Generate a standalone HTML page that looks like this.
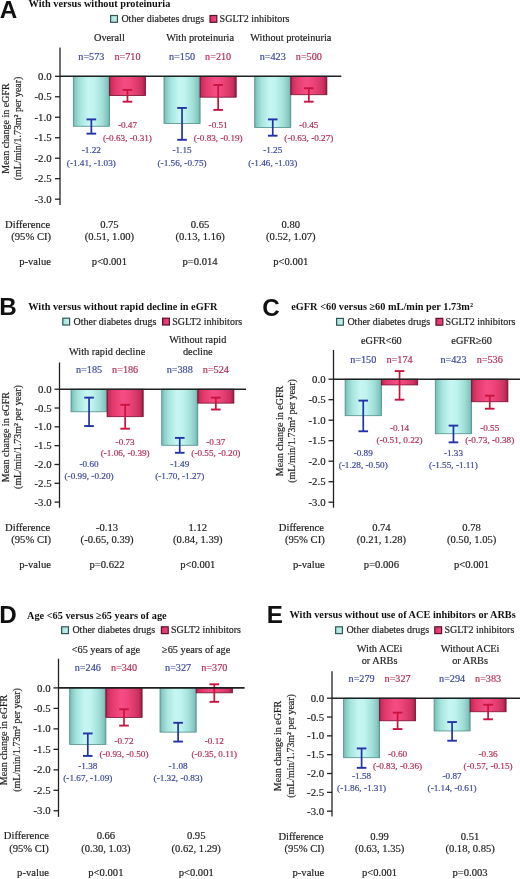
<!DOCTYPE html>
<html><head><meta charset="utf-8"><title>eGFR change by subgroup</title>
<style>html,body{margin:0;padding:0;background:#fff;width:520px;height:879px;overflow:hidden}svg{display:block;filter:blur(0.35px)}</style>
</head><body>
<svg width="520" height="879" viewBox="0 0 520 879">
<defs>
<linearGradient id="gT" x1="0" x2="1" y1="0" y2="0">
<stop offset="0" stop-color="#6fb3ad"/><stop offset="0.06" stop-color="#88cbc4"/><stop offset="0.2" stop-color="#a8e5df"/>
<stop offset="0.42" stop-color="#c6f6f2"/><stop offset="0.58" stop-color="#c0f3ef"/><stop offset="0.8" stop-color="#a2dfd9"/>
<stop offset="0.94" stop-color="#86c7c1"/><stop offset="1" stop-color="#6aa9a4"/>
</linearGradient>
<linearGradient id="gP" x1="0" x2="1" y1="0" y2="0">
<stop offset="0" stop-color="#8a1a3c"/><stop offset="0.04" stop-color="#c82c5c"/><stop offset="0.15" stop-color="#e2386c"/>
<stop offset="0.42" stop-color="#f44c84"/><stop offset="0.6" stop-color="#ee467c"/><stop offset="0.78" stop-color="#dc3a6c"/>
<stop offset="0.9" stop-color="#cc3060"/><stop offset="0.97" stop-color="#a8244e"/><stop offset="1" stop-color="#701a36"/>
</linearGradient>
<linearGradient id="legT" x1="0" x2="1"><stop offset="0" stop-color="#a8e2dc"/><stop offset="1" stop-color="#c8f2ee"/></linearGradient>
<linearGradient id="legP" x1="0" x2="1"><stop offset="0" stop-color="#d8306a"/><stop offset="1" stop-color="#ee4a7c"/></linearGradient>
</defs>
<text x="-0.30" y="17.60" font-size="24.2" text-anchor="start" fill="#111" font-weight="bold" font-family="'Liberation Sans', Arial, sans-serif">A</text>
<text x="28.60" y="7.20" font-size="10.3" text-anchor="start" fill="#111" font-weight="bold" font-family="'Liberation Serif', 'Times New Roman', serif">With versus without proteinuria</text>
<rect x="110.60" y="15.50" width="6.80" height="6.80" fill="url(#legT)" stroke="#2f5856" stroke-width="1.2"/>
<text x="121.40" y="22.10" font-size="10" text-anchor="start" fill="#222" font-weight="normal" font-family="'Liberation Serif', 'Times New Roman', serif" stroke="#222" stroke-width="0.18">Other diabetes drugs</text>
<rect x="210.00" y="15.50" width="6.80" height="6.80" fill="url(#legP)" stroke="#5a1028" stroke-width="1.2"/>
<text x="219.60" y="22.10" font-size="10" text-anchor="start" fill="#222" font-weight="normal" font-family="'Liberation Serif', 'Times New Roman', serif" stroke="#222" stroke-width="0.18">SGLT2 inhibitors</text>
<line x1="60.00" y1="47.50" x2="60.00" y2="205.00" stroke="#222" stroke-width="1.3"/>
<line x1="55.00" y1="76.30" x2="60.00" y2="76.30" stroke="#222" stroke-width="1.3"/>
<text x="51.60" y="79.90" font-size="10.8" text-anchor="end" fill="#222" font-weight="normal" font-family="'Liberation Serif', 'Times New Roman', serif" stroke="#222" stroke-width="0.18">0.0</text>
<line x1="55.00" y1="96.78" x2="60.00" y2="96.78" stroke="#222" stroke-width="1.3"/>
<text x="51.60" y="100.38" font-size="10.8" text-anchor="end" fill="#222" font-weight="normal" font-family="'Liberation Serif', 'Times New Roman', serif" stroke="#222" stroke-width="0.18">-0.5</text>
<line x1="55.00" y1="117.26" x2="60.00" y2="117.26" stroke="#222" stroke-width="1.3"/>
<text x="51.60" y="120.86" font-size="10.8" text-anchor="end" fill="#222" font-weight="normal" font-family="'Liberation Serif', 'Times New Roman', serif" stroke="#222" stroke-width="0.18">-1.0</text>
<line x1="55.00" y1="137.74" x2="60.00" y2="137.74" stroke="#222" stroke-width="1.3"/>
<text x="51.60" y="141.34" font-size="10.8" text-anchor="end" fill="#222" font-weight="normal" font-family="'Liberation Serif', 'Times New Roman', serif" stroke="#222" stroke-width="0.18">-1.5</text>
<line x1="55.00" y1="158.22" x2="60.00" y2="158.22" stroke="#222" stroke-width="1.3"/>
<text x="51.60" y="161.82" font-size="10.8" text-anchor="end" fill="#222" font-weight="normal" font-family="'Liberation Serif', 'Times New Roman', serif" stroke="#222" stroke-width="0.18">-2.0</text>
<line x1="55.00" y1="178.70" x2="60.00" y2="178.70" stroke="#222" stroke-width="1.3"/>
<text x="51.60" y="182.30" font-size="10.8" text-anchor="end" fill="#222" font-weight="normal" font-family="'Liberation Serif', 'Times New Roman', serif" stroke="#222" stroke-width="0.18">-2.5</text>
<line x1="55.00" y1="199.18" x2="60.00" y2="199.18" stroke="#222" stroke-width="1.3"/>
<text x="51.60" y="202.78" font-size="10.8" text-anchor="end" fill="#222" font-weight="normal" font-family="'Liberation Serif', 'Times New Roman', serif" stroke="#222" stroke-width="0.18">-3.0</text>
<text x="0.00" y="0.00" font-size="10" text-anchor="middle" fill="#222" font-weight="normal" font-family="'Liberation Serif', 'Times New Roman', serif" stroke="#222" stroke-width="0.18" transform="translate(8.60,128.50) rotate(-90)">Mean change in eGFR</text>
<text x="0.00" y="0.00" font-size="9.9" text-anchor="middle" fill="#222" font-weight="normal" font-family="'Liberation Serif', 'Times New Roman', serif" stroke="#222" stroke-width="0.18" transform="translate(20.70,128.50) rotate(-90)">(mL/min/1.73m² per year)</text>
<rect x="73.30" y="76.30" width="36.10" height="49.97" fill="url(#gT)" stroke="#4f8f8a" stroke-width="0.8"/>
<rect x="109.40" y="76.30" width="36.10" height="19.25" fill="url(#gP)" stroke="#7a1030" stroke-width="0.8"/>
<line x1="91.35" y1="133.65" x2="91.35" y2="119.39" stroke="#2332a6" stroke-width="1.7"/>
<line x1="86.55" y1="133.65" x2="96.15" y2="133.65" stroke="#2332a6" stroke-width="1.9"/>
<line x1="86.55" y1="119.39" x2="96.15" y2="119.39" stroke="#2332a6" stroke-width="1.9"/>
<line x1="127.45" y1="101.70" x2="127.45" y2="89.90" stroke="#c8143f" stroke-width="1.7"/>
<line x1="122.65" y1="101.70" x2="132.25" y2="101.70" stroke="#c8143f" stroke-width="1.9"/>
<line x1="122.65" y1="89.90" x2="132.25" y2="89.90" stroke="#c8143f" stroke-width="1.9"/>
<text x="127.45" y="128.30" font-size="9.2" text-anchor="middle" fill="#b42c52" font-weight="normal" font-family="'Liberation Serif', 'Times New Roman', serif" stroke="#b42c52" stroke-width="0.18">-0.47</text>
<text x="127.45" y="140.80" font-size="9.2" text-anchor="middle" fill="#b42c52" font-weight="normal" font-family="'Liberation Serif', 'Times New Roman', serif" stroke="#b42c52" stroke-width="0.18">(-0.63, -0.31)</text>
<text x="91.35" y="152.70" font-size="9.2" text-anchor="middle" fill="#3a479c" font-weight="normal" font-family="'Liberation Serif', 'Times New Roman', serif" stroke="#3a479c" stroke-width="0.18">-1.22</text>
<text x="91.35" y="165.60" font-size="9.2" text-anchor="middle" fill="#3a479c" font-weight="normal" font-family="'Liberation Serif', 'Times New Roman', serif" stroke="#3a479c" stroke-width="0.18">(-1.41, -1.03)</text>
<text x="91.35" y="59.50" font-size="10.2" text-anchor="middle" fill="#3a479c" font-weight="normal" font-family="'Liberation Serif', 'Times New Roman', serif" stroke="#3a479c" stroke-width="0.18">n=573</text>
<text x="127.45" y="59.50" font-size="10.2" text-anchor="middle" fill="#b42c52" font-weight="normal" font-family="'Liberation Serif', 'Times New Roman', serif" stroke="#b42c52" stroke-width="0.18">n=710</text>
<text x="109.40" y="40.50" font-size="10.3" text-anchor="middle" fill="#222" font-weight="normal" font-family="'Liberation Serif', 'Times New Roman', serif" stroke="#222" stroke-width="0.18">Overall</text>
<text x="109.40" y="228.00" font-size="10.6" text-anchor="middle" fill="#222" font-weight="normal" font-family="'Liberation Serif', 'Times New Roman', serif" stroke="#222" stroke-width="0.18">0.75</text>
<text x="109.40" y="239.50" font-size="10.6" text-anchor="middle" fill="#222" font-weight="normal" font-family="'Liberation Serif', 'Times New Roman', serif" stroke="#222" stroke-width="0.18">(0.51, 1.00)</text>
<text x="109.40" y="264.50" font-size="10.6" text-anchor="middle" fill="#222" font-weight="normal" font-family="'Liberation Serif', 'Times New Roman', serif" stroke="#222" stroke-width="0.18">p&lt;0.001</text>
<rect x="164.00" y="76.30" width="36.10" height="47.10" fill="url(#gT)" stroke="#4f8f8a" stroke-width="0.8"/>
<rect x="200.10" y="76.30" width="36.10" height="20.89" fill="url(#gP)" stroke="#7a1030" stroke-width="0.8"/>
<line x1="182.05" y1="139.80" x2="182.05" y2="107.92" stroke="#2332a6" stroke-width="1.7"/>
<line x1="177.25" y1="139.80" x2="186.85" y2="139.80" stroke="#2332a6" stroke-width="1.9"/>
<line x1="177.25" y1="107.92" x2="186.85" y2="107.92" stroke="#2332a6" stroke-width="1.9"/>
<line x1="218.15" y1="109.90" x2="218.15" y2="84.98" stroke="#c8143f" stroke-width="1.7"/>
<line x1="213.35" y1="109.90" x2="222.95" y2="109.90" stroke="#c8143f" stroke-width="1.9"/>
<line x1="213.35" y1="84.98" x2="222.95" y2="84.98" stroke="#c8143f" stroke-width="1.9"/>
<text x="218.15" y="128.30" font-size="9.2" text-anchor="middle" fill="#b42c52" font-weight="normal" font-family="'Liberation Serif', 'Times New Roman', serif" stroke="#b42c52" stroke-width="0.18">-0.51</text>
<text x="218.15" y="140.80" font-size="9.2" text-anchor="middle" fill="#b42c52" font-weight="normal" font-family="'Liberation Serif', 'Times New Roman', serif" stroke="#b42c52" stroke-width="0.18">(-0.83, -0.19)</text>
<text x="182.05" y="152.70" font-size="9.2" text-anchor="middle" fill="#3a479c" font-weight="normal" font-family="'Liberation Serif', 'Times New Roman', serif" stroke="#3a479c" stroke-width="0.18">-1.15</text>
<text x="182.05" y="165.60" font-size="9.2" text-anchor="middle" fill="#3a479c" font-weight="normal" font-family="'Liberation Serif', 'Times New Roman', serif" stroke="#3a479c" stroke-width="0.18">(-1.56, -0.75)</text>
<text x="182.05" y="59.50" font-size="10.2" text-anchor="middle" fill="#3a479c" font-weight="normal" font-family="'Liberation Serif', 'Times New Roman', serif" stroke="#3a479c" stroke-width="0.18">n=150</text>
<text x="218.15" y="59.50" font-size="10.2" text-anchor="middle" fill="#b42c52" font-weight="normal" font-family="'Liberation Serif', 'Times New Roman', serif" stroke="#b42c52" stroke-width="0.18">n=210</text>
<text x="200.10" y="40.50" font-size="10.3" text-anchor="middle" fill="#222" font-weight="normal" font-family="'Liberation Serif', 'Times New Roman', serif" stroke="#222" stroke-width="0.18">With proteinuria</text>
<text x="200.10" y="228.00" font-size="10.6" text-anchor="middle" fill="#222" font-weight="normal" font-family="'Liberation Serif', 'Times New Roman', serif" stroke="#222" stroke-width="0.18">0.65</text>
<text x="200.10" y="239.50" font-size="10.6" text-anchor="middle" fill="#222" font-weight="normal" font-family="'Liberation Serif', 'Times New Roman', serif" stroke="#222" stroke-width="0.18">(0.13, 1.16)</text>
<text x="200.10" y="264.50" font-size="10.6" text-anchor="middle" fill="#222" font-weight="normal" font-family="'Liberation Serif', 'Times New Roman', serif" stroke="#222" stroke-width="0.18">p=0.014</text>
<rect x="254.70" y="76.30" width="36.10" height="51.20" fill="url(#gT)" stroke="#4f8f8a" stroke-width="0.8"/>
<rect x="290.80" y="76.30" width="36.10" height="18.43" fill="url(#gP)" stroke="#7a1030" stroke-width="0.8"/>
<line x1="272.75" y1="135.70" x2="272.75" y2="119.39" stroke="#2332a6" stroke-width="1.7"/>
<line x1="267.95" y1="135.70" x2="277.55" y2="135.70" stroke="#2332a6" stroke-width="1.9"/>
<line x1="267.95" y1="119.39" x2="277.55" y2="119.39" stroke="#2332a6" stroke-width="1.9"/>
<line x1="308.85" y1="101.70" x2="308.85" y2="88.26" stroke="#c8143f" stroke-width="1.7"/>
<line x1="304.05" y1="101.70" x2="313.65" y2="101.70" stroke="#c8143f" stroke-width="1.9"/>
<line x1="304.05" y1="88.26" x2="313.65" y2="88.26" stroke="#c8143f" stroke-width="1.9"/>
<text x="308.85" y="128.30" font-size="9.2" text-anchor="middle" fill="#b42c52" font-weight="normal" font-family="'Liberation Serif', 'Times New Roman', serif" stroke="#b42c52" stroke-width="0.18">-0.45</text>
<text x="308.85" y="140.80" font-size="9.2" text-anchor="middle" fill="#b42c52" font-weight="normal" font-family="'Liberation Serif', 'Times New Roman', serif" stroke="#b42c52" stroke-width="0.18">(-0.63, -0.27)</text>
<text x="272.75" y="152.70" font-size="9.2" text-anchor="middle" fill="#3a479c" font-weight="normal" font-family="'Liberation Serif', 'Times New Roman', serif" stroke="#3a479c" stroke-width="0.18">-1.25</text>
<text x="272.75" y="165.60" font-size="9.2" text-anchor="middle" fill="#3a479c" font-weight="normal" font-family="'Liberation Serif', 'Times New Roman', serif" stroke="#3a479c" stroke-width="0.18">(-1.46, -1.03)</text>
<text x="272.75" y="59.50" font-size="10.2" text-anchor="middle" fill="#3a479c" font-weight="normal" font-family="'Liberation Serif', 'Times New Roman', serif" stroke="#3a479c" stroke-width="0.18">n=423</text>
<text x="308.85" y="59.50" font-size="10.2" text-anchor="middle" fill="#b42c52" font-weight="normal" font-family="'Liberation Serif', 'Times New Roman', serif" stroke="#b42c52" stroke-width="0.18">n=500</text>
<text x="290.80" y="40.50" font-size="10.3" text-anchor="middle" fill="#222" font-weight="normal" font-family="'Liberation Serif', 'Times New Roman', serif" stroke="#222" stroke-width="0.18">Without proteinuria</text>
<text x="290.80" y="228.00" font-size="10.6" text-anchor="middle" fill="#222" font-weight="normal" font-family="'Liberation Serif', 'Times New Roman', serif" stroke="#222" stroke-width="0.18">0.80</text>
<text x="290.80" y="239.50" font-size="10.6" text-anchor="middle" fill="#222" font-weight="normal" font-family="'Liberation Serif', 'Times New Roman', serif" stroke="#222" stroke-width="0.18">(0.52, 1.07)</text>
<text x="290.80" y="264.50" font-size="10.6" text-anchor="middle" fill="#222" font-weight="normal" font-family="'Liberation Serif', 'Times New Roman', serif" stroke="#222" stroke-width="0.18">p&lt;0.001</text>
<line x1="60.00" y1="76.30" x2="341.30" y2="76.30" stroke="#1e2222" stroke-width="1.6"/>
<text x="50.20" y="228.00" font-size="10.6" text-anchor="end" fill="#222" font-weight="normal" font-family="'Liberation Serif', 'Times New Roman', serif" stroke="#222" stroke-width="0.18">Difference</text>
<text x="51.00" y="239.50" font-size="10.6" text-anchor="end" fill="#222" font-weight="normal" font-family="'Liberation Serif', 'Times New Roman', serif" stroke="#222" stroke-width="0.18">(95% CI)</text>
<text x="51.00" y="264.50" font-size="10.6" text-anchor="end" fill="#222" font-weight="normal" font-family="'Liberation Serif', 'Times New Roman', serif" stroke="#222" stroke-width="0.18">p-value</text>
<text x="-0.80" y="315.20" font-size="24.2" text-anchor="start" fill="#111" font-weight="bold" font-family="'Liberation Sans', Arial, sans-serif">B</text>
<text x="28.25" y="310.00" font-size="10.3" text-anchor="start" fill="#111" font-weight="bold" font-family="'Liberation Serif', 'Times New Roman', serif">With versus without rapid decline in eGFR</text>
<rect x="62.80" y="318.20" width="6.80" height="6.80" fill="url(#legT)" stroke="#2f5856" stroke-width="1.2"/>
<text x="73.60" y="324.80" font-size="10" text-anchor="start" fill="#222" font-weight="normal" font-family="'Liberation Serif', 'Times New Roman', serif" stroke="#222" stroke-width="0.18">Other diabetes drugs</text>
<rect x="162.60" y="318.20" width="6.80" height="6.80" fill="url(#legP)" stroke="#5a1028" stroke-width="1.2"/>
<text x="172.20" y="324.80" font-size="10" text-anchor="start" fill="#222" font-weight="normal" font-family="'Liberation Serif', 'Times New Roman', serif" stroke="#222" stroke-width="0.18">SGLT2 inhibitors</text>
<line x1="59.50" y1="362.50" x2="59.50" y2="507.70" stroke="#222" stroke-width="1.3"/>
<line x1="54.50" y1="389.20" x2="59.50" y2="389.20" stroke="#222" stroke-width="1.3"/>
<text x="51.60" y="392.80" font-size="10.8" text-anchor="end" fill="#222" font-weight="normal" font-family="'Liberation Serif', 'Times New Roman', serif" stroke="#222" stroke-width="0.18">0.0</text>
<line x1="54.50" y1="408.02" x2="59.50" y2="408.02" stroke="#222" stroke-width="1.3"/>
<text x="51.60" y="411.62" font-size="10.8" text-anchor="end" fill="#222" font-weight="normal" font-family="'Liberation Serif', 'Times New Roman', serif" stroke="#222" stroke-width="0.18">-0.5</text>
<line x1="54.50" y1="426.84" x2="59.50" y2="426.84" stroke="#222" stroke-width="1.3"/>
<text x="51.60" y="430.44" font-size="10.8" text-anchor="end" fill="#222" font-weight="normal" font-family="'Liberation Serif', 'Times New Roman', serif" stroke="#222" stroke-width="0.18">-1.0</text>
<line x1="54.50" y1="445.66" x2="59.50" y2="445.66" stroke="#222" stroke-width="1.3"/>
<text x="51.60" y="449.26" font-size="10.8" text-anchor="end" fill="#222" font-weight="normal" font-family="'Liberation Serif', 'Times New Roman', serif" stroke="#222" stroke-width="0.18">-1.5</text>
<line x1="54.50" y1="464.48" x2="59.50" y2="464.48" stroke="#222" stroke-width="1.3"/>
<text x="51.60" y="468.08" font-size="10.8" text-anchor="end" fill="#222" font-weight="normal" font-family="'Liberation Serif', 'Times New Roman', serif" stroke="#222" stroke-width="0.18">-2.0</text>
<line x1="54.50" y1="483.30" x2="59.50" y2="483.30" stroke="#222" stroke-width="1.3"/>
<text x="51.60" y="486.90" font-size="10.8" text-anchor="end" fill="#222" font-weight="normal" font-family="'Liberation Serif', 'Times New Roman', serif" stroke="#222" stroke-width="0.18">-2.5</text>
<line x1="54.50" y1="502.12" x2="59.50" y2="502.12" stroke="#222" stroke-width="1.3"/>
<text x="51.60" y="505.72" font-size="10.8" text-anchor="end" fill="#222" font-weight="normal" font-family="'Liberation Serif', 'Times New Roman', serif" stroke="#222" stroke-width="0.18">-3.0</text>
<text x="0.00" y="0.00" font-size="10" text-anchor="middle" fill="#222" font-weight="normal" font-family="'Liberation Serif', 'Times New Roman', serif" stroke="#222" stroke-width="0.18" transform="translate(8.60,437.10) rotate(-90)">Mean change in eGFR</text>
<text x="0.00" y="0.00" font-size="9.9" text-anchor="middle" fill="#222" font-weight="normal" font-family="'Liberation Serif', 'Times New Roman', serif" stroke="#222" stroke-width="0.18" transform="translate(20.80,437.10) rotate(-90)">(mL/min/1.73m² per year)</text>
<rect x="71.00" y="389.20" width="36.10" height="22.58" fill="url(#gT)" stroke="#4f8f8a" stroke-width="0.8"/>
<rect x="107.10" y="389.20" width="36.10" height="27.48" fill="url(#gP)" stroke="#7a1030" stroke-width="0.8"/>
<line x1="89.05" y1="426.06" x2="89.05" y2="397.63" stroke="#2332a6" stroke-width="1.7"/>
<line x1="84.25" y1="426.06" x2="93.85" y2="426.06" stroke="#2332a6" stroke-width="1.9"/>
<line x1="84.25" y1="397.63" x2="93.85" y2="397.63" stroke="#2332a6" stroke-width="1.9"/>
<line x1="125.15" y1="428.70" x2="125.15" y2="404.78" stroke="#c8143f" stroke-width="1.7"/>
<line x1="120.35" y1="428.70" x2="129.95" y2="428.70" stroke="#c8143f" stroke-width="1.9"/>
<line x1="120.35" y1="404.78" x2="129.95" y2="404.78" stroke="#c8143f" stroke-width="1.9"/>
<text x="125.15" y="444.80" font-size="9.2" text-anchor="middle" fill="#b42c52" font-weight="normal" font-family="'Liberation Serif', 'Times New Roman', serif" stroke="#b42c52" stroke-width="0.18">-0.73</text>
<text x="125.15" y="456.00" font-size="9.2" text-anchor="middle" fill="#b42c52" font-weight="normal" font-family="'Liberation Serif', 'Times New Roman', serif" stroke="#b42c52" stroke-width="0.18">(-1.06, -0.39)</text>
<text x="89.05" y="467.10" font-size="9.2" text-anchor="middle" fill="#3a479c" font-weight="normal" font-family="'Liberation Serif', 'Times New Roman', serif" stroke="#3a479c" stroke-width="0.18">-0.60</text>
<text x="89.05" y="478.50" font-size="9.2" text-anchor="middle" fill="#3a479c" font-weight="normal" font-family="'Liberation Serif', 'Times New Roman', serif" stroke="#3a479c" stroke-width="0.18">(-0.99, -0.20)</text>
<text x="89.05" y="373.00" font-size="10.2" text-anchor="middle" fill="#3a479c" font-weight="normal" font-family="'Liberation Serif', 'Times New Roman', serif" stroke="#3a479c" stroke-width="0.18">n=185</text>
<text x="125.15" y="373.00" font-size="10.2" text-anchor="middle" fill="#b42c52" font-weight="normal" font-family="'Liberation Serif', 'Times New Roman', serif" stroke="#b42c52" stroke-width="0.18">n=186</text>
<text x="107.10" y="355.00" font-size="10.3" text-anchor="middle" fill="#222" font-weight="normal" font-family="'Liberation Serif', 'Times New Roman', serif" stroke="#222" stroke-width="0.18">With rapid decline</text>
<text x="107.10" y="530.50" font-size="10.6" text-anchor="middle" fill="#222" font-weight="normal" font-family="'Liberation Serif', 'Times New Roman', serif" stroke="#222" stroke-width="0.18">-0.13</text>
<text x="107.10" y="542.50" font-size="10.6" text-anchor="middle" fill="#222" font-weight="normal" font-family="'Liberation Serif', 'Times New Roman', serif" stroke="#222" stroke-width="0.18">(-0.65, 0.39)</text>
<text x="107.10" y="567.50" font-size="10.6" text-anchor="middle" fill="#222" font-weight="normal" font-family="'Liberation Serif', 'Times New Roman', serif" stroke="#222" stroke-width="0.18">p=0.622</text>
<rect x="161.70" y="389.20" width="36.10" height="56.08" fill="url(#gT)" stroke="#4f8f8a" stroke-width="0.8"/>
<rect x="197.80" y="389.20" width="36.10" height="13.93" fill="url(#gP)" stroke="#7a1030" stroke-width="0.8"/>
<line x1="179.75" y1="452.79" x2="179.75" y2="437.90" stroke="#2332a6" stroke-width="1.7"/>
<line x1="174.95" y1="452.79" x2="184.55" y2="452.79" stroke="#2332a6" stroke-width="1.9"/>
<line x1="174.95" y1="437.90" x2="184.55" y2="437.90" stroke="#2332a6" stroke-width="1.9"/>
<line x1="215.85" y1="409.50" x2="215.85" y2="397.63" stroke="#c8143f" stroke-width="1.7"/>
<line x1="211.05" y1="409.50" x2="220.65" y2="409.50" stroke="#c8143f" stroke-width="1.9"/>
<line x1="211.05" y1="397.63" x2="220.65" y2="397.63" stroke="#c8143f" stroke-width="1.9"/>
<text x="215.85" y="444.80" font-size="9.2" text-anchor="middle" fill="#b42c52" font-weight="normal" font-family="'Liberation Serif', 'Times New Roman', serif" stroke="#b42c52" stroke-width="0.18">-0.37</text>
<text x="215.85" y="456.00" font-size="9.2" text-anchor="middle" fill="#b42c52" font-weight="normal" font-family="'Liberation Serif', 'Times New Roman', serif" stroke="#b42c52" stroke-width="0.18">(-0.55, -0.20)</text>
<text x="179.75" y="467.10" font-size="9.2" text-anchor="middle" fill="#3a479c" font-weight="normal" font-family="'Liberation Serif', 'Times New Roman', serif" stroke="#3a479c" stroke-width="0.18">-1.49</text>
<text x="179.75" y="478.50" font-size="9.2" text-anchor="middle" fill="#3a479c" font-weight="normal" font-family="'Liberation Serif', 'Times New Roman', serif" stroke="#3a479c" stroke-width="0.18">(-1.70, -1.27)</text>
<text x="179.75" y="373.00" font-size="10.2" text-anchor="middle" fill="#3a479c" font-weight="normal" font-family="'Liberation Serif', 'Times New Roman', serif" stroke="#3a479c" stroke-width="0.18">n=388</text>
<text x="215.85" y="373.00" font-size="10.2" text-anchor="middle" fill="#b42c52" font-weight="normal" font-family="'Liberation Serif', 'Times New Roman', serif" stroke="#b42c52" stroke-width="0.18">n=524</text>
<text x="197.80" y="343.00" font-size="10.3" text-anchor="middle" fill="#222" font-weight="normal" font-family="'Liberation Serif', 'Times New Roman', serif" stroke="#222" stroke-width="0.18">Without rapid</text>
<text x="197.80" y="355.00" font-size="10.3" text-anchor="middle" fill="#222" font-weight="normal" font-family="'Liberation Serif', 'Times New Roman', serif" stroke="#222" stroke-width="0.18">decline</text>
<text x="197.80" y="530.50" font-size="10.6" text-anchor="middle" fill="#222" font-weight="normal" font-family="'Liberation Serif', 'Times New Roman', serif" stroke="#222" stroke-width="0.18">1.12</text>
<text x="197.80" y="542.50" font-size="10.6" text-anchor="middle" fill="#222" font-weight="normal" font-family="'Liberation Serif', 'Times New Roman', serif" stroke="#222" stroke-width="0.18">(0.84, 1.39)</text>
<text x="197.80" y="567.50" font-size="10.6" text-anchor="middle" fill="#222" font-weight="normal" font-family="'Liberation Serif', 'Times New Roman', serif" stroke="#222" stroke-width="0.18">p&lt;0.001</text>
<line x1="59.50" y1="389.20" x2="246.00" y2="389.20" stroke="#1e2222" stroke-width="1.6"/>
<text x="50.20" y="530.50" font-size="10.6" text-anchor="end" fill="#222" font-weight="normal" font-family="'Liberation Serif', 'Times New Roman', serif" stroke="#222" stroke-width="0.18">Difference</text>
<text x="51.00" y="542.50" font-size="10.6" text-anchor="end" fill="#222" font-weight="normal" font-family="'Liberation Serif', 'Times New Roman', serif" stroke="#222" stroke-width="0.18">(95% CI)</text>
<text x="51.00" y="567.50" font-size="10.6" text-anchor="end" fill="#222" font-weight="normal" font-family="'Liberation Serif', 'Times New Roman', serif" stroke="#222" stroke-width="0.18">p-value</text>
<text x="262.20" y="315.80" font-size="24.2" text-anchor="start" fill="#111" font-weight="bold" font-family="'Liberation Sans', Arial, sans-serif">C</text>
<text x="291.25" y="310.00" font-size="10.3" text-anchor="start" fill="#111" font-weight="bold" font-family="'Liberation Serif', 'Times New Roman', serif">eGFR &lt;60 versus ≥60 mL/min per 1.73m²</text>
<rect x="336.60" y="318.40" width="6.80" height="6.80" fill="url(#legT)" stroke="#2f5856" stroke-width="1.2"/>
<text x="347.40" y="325.00" font-size="10" text-anchor="start" fill="#222" font-weight="normal" font-family="'Liberation Serif', 'Times New Roman', serif" stroke="#222" stroke-width="0.18">Other diabetes drugs</text>
<rect x="436.00" y="318.40" width="6.80" height="6.80" fill="url(#legP)" stroke="#5a1028" stroke-width="1.2"/>
<text x="445.60" y="325.00" font-size="10" text-anchor="start" fill="#222" font-weight="normal" font-family="'Liberation Serif', 'Times New Roman', serif" stroke="#222" stroke-width="0.18">SGLT2 inhibitors</text>
<line x1="333.50" y1="350.00" x2="333.50" y2="507.70" stroke="#222" stroke-width="1.3"/>
<line x1="328.50" y1="379.20" x2="333.50" y2="379.20" stroke="#222" stroke-width="1.3"/>
<text x="325.60" y="382.80" font-size="10.8" text-anchor="end" fill="#222" font-weight="normal" font-family="'Liberation Serif', 'Times New Roman', serif" stroke="#222" stroke-width="0.18">0.0</text>
<line x1="328.50" y1="399.70" x2="333.50" y2="399.70" stroke="#222" stroke-width="1.3"/>
<text x="325.60" y="403.30" font-size="10.8" text-anchor="end" fill="#222" font-weight="normal" font-family="'Liberation Serif', 'Times New Roman', serif" stroke="#222" stroke-width="0.18">-0.5</text>
<line x1="328.50" y1="420.20" x2="333.50" y2="420.20" stroke="#222" stroke-width="1.3"/>
<text x="325.60" y="423.80" font-size="10.8" text-anchor="end" fill="#222" font-weight="normal" font-family="'Liberation Serif', 'Times New Roman', serif" stroke="#222" stroke-width="0.18">-1.0</text>
<line x1="328.50" y1="440.70" x2="333.50" y2="440.70" stroke="#222" stroke-width="1.3"/>
<text x="325.60" y="444.30" font-size="10.8" text-anchor="end" fill="#222" font-weight="normal" font-family="'Liberation Serif', 'Times New Roman', serif" stroke="#222" stroke-width="0.18">-1.5</text>
<line x1="328.50" y1="461.20" x2="333.50" y2="461.20" stroke="#222" stroke-width="1.3"/>
<text x="325.60" y="464.80" font-size="10.8" text-anchor="end" fill="#222" font-weight="normal" font-family="'Liberation Serif', 'Times New Roman', serif" stroke="#222" stroke-width="0.18">-2.0</text>
<line x1="328.50" y1="481.70" x2="333.50" y2="481.70" stroke="#222" stroke-width="1.3"/>
<text x="325.60" y="485.30" font-size="10.8" text-anchor="end" fill="#222" font-weight="normal" font-family="'Liberation Serif', 'Times New Roman', serif" stroke="#222" stroke-width="0.18">-2.5</text>
<line x1="328.50" y1="502.20" x2="333.50" y2="502.20" stroke="#222" stroke-width="1.3"/>
<text x="325.60" y="505.80" font-size="10.8" text-anchor="end" fill="#222" font-weight="normal" font-family="'Liberation Serif', 'Times New Roman', serif" stroke="#222" stroke-width="0.18">-3.0</text>
<text x="0.00" y="0.00" font-size="10" text-anchor="middle" fill="#222" font-weight="normal" font-family="'Liberation Serif', 'Times New Roman', serif" stroke="#222" stroke-width="0.18" transform="translate(282.60,431.00) rotate(-90)">Mean change in eGFR</text>
<text x="0.00" y="0.00" font-size="9.9" text-anchor="middle" fill="#222" font-weight="normal" font-family="'Liberation Serif', 'Times New Roman', serif" stroke="#222" stroke-width="0.18" transform="translate(294.70,431.00) rotate(-90)">(mL/min/1.73m² per year)</text>
<rect x="345.10" y="379.20" width="36.30" height="36.49" fill="url(#gT)" stroke="#4f8f8a" stroke-width="0.8"/>
<rect x="381.40" y="379.20" width="36.30" height="5.74" fill="url(#gP)" stroke="#7a1030" stroke-width="0.8"/>
<line x1="363.25" y1="431.28" x2="363.25" y2="400.60" stroke="#2332a6" stroke-width="1.7"/>
<line x1="358.45" y1="431.28" x2="368.05" y2="431.28" stroke="#2332a6" stroke-width="1.9"/>
<line x1="358.45" y1="400.60" x2="368.05" y2="400.60" stroke="#2332a6" stroke-width="1.9"/>
<line x1="399.55" y1="399.71" x2="399.55" y2="371.08" stroke="#c8143f" stroke-width="1.7"/>
<line x1="394.75" y1="399.71" x2="404.35" y2="399.71" stroke="#c8143f" stroke-width="1.9"/>
<line x1="394.75" y1="371.08" x2="404.35" y2="371.08" stroke="#c8143f" stroke-width="1.9"/>
<text x="399.55" y="431.00" font-size="9.2" text-anchor="middle" fill="#b42c52" font-weight="normal" font-family="'Liberation Serif', 'Times New Roman', serif" stroke="#b42c52" stroke-width="0.18">-0.14</text>
<text x="399.55" y="443.10" font-size="9.2" text-anchor="middle" fill="#b42c52" font-weight="normal" font-family="'Liberation Serif', 'Times New Roman', serif" stroke="#b42c52" stroke-width="0.18">(-0.51, 0.22)</text>
<text x="363.25" y="455.60" font-size="9.2" text-anchor="middle" fill="#3a479c" font-weight="normal" font-family="'Liberation Serif', 'Times New Roman', serif" stroke="#3a479c" stroke-width="0.18">-0.89</text>
<text x="363.25" y="467.70" font-size="9.2" text-anchor="middle" fill="#3a479c" font-weight="normal" font-family="'Liberation Serif', 'Times New Roman', serif" stroke="#3a479c" stroke-width="0.18">(-1.28, -0.50)</text>
<text x="363.25" y="362.50" font-size="10.2" text-anchor="middle" fill="#3a479c" font-weight="normal" font-family="'Liberation Serif', 'Times New Roman', serif" stroke="#3a479c" stroke-width="0.18">n=150</text>
<text x="399.55" y="362.50" font-size="10.2" text-anchor="middle" fill="#b42c52" font-weight="normal" font-family="'Liberation Serif', 'Times New Roman', serif" stroke="#b42c52" stroke-width="0.18">n=174</text>
<text x="381.40" y="343.75" font-size="10.3" text-anchor="middle" fill="#222" font-weight="normal" font-family="'Liberation Serif', 'Times New Roman', serif" stroke="#222" stroke-width="0.18">eGFR&lt;60</text>
<text x="381.40" y="530.50" font-size="10.6" text-anchor="middle" fill="#222" font-weight="normal" font-family="'Liberation Serif', 'Times New Roman', serif" stroke="#222" stroke-width="0.18">0.74</text>
<text x="381.40" y="542.50" font-size="10.6" text-anchor="middle" fill="#222" font-weight="normal" font-family="'Liberation Serif', 'Times New Roman', serif" stroke="#222" stroke-width="0.18">(0.21, 1.28)</text>
<text x="381.40" y="567.50" font-size="10.6" text-anchor="middle" fill="#222" font-weight="normal" font-family="'Liberation Serif', 'Times New Roman', serif" stroke="#222" stroke-width="0.18">p=0.006</text>
<rect x="435.30" y="379.20" width="36.30" height="54.53" fill="url(#gT)" stroke="#4f8f8a" stroke-width="0.8"/>
<rect x="471.60" y="379.20" width="36.30" height="22.55" fill="url(#gP)" stroke="#7a1030" stroke-width="0.8"/>
<line x1="453.45" y1="442.35" x2="453.45" y2="425.61" stroke="#2332a6" stroke-width="1.7"/>
<line x1="448.65" y1="442.35" x2="458.25" y2="442.35" stroke="#2332a6" stroke-width="1.9"/>
<line x1="448.65" y1="425.61" x2="458.25" y2="425.61" stroke="#2332a6" stroke-width="1.9"/>
<line x1="489.75" y1="408.73" x2="489.75" y2="395.68" stroke="#c8143f" stroke-width="1.7"/>
<line x1="484.95" y1="408.73" x2="494.55" y2="408.73" stroke="#c8143f" stroke-width="1.9"/>
<line x1="484.95" y1="395.68" x2="494.55" y2="395.68" stroke="#c8143f" stroke-width="1.9"/>
<text x="489.75" y="431.00" font-size="9.2" text-anchor="middle" fill="#b42c52" font-weight="normal" font-family="'Liberation Serif', 'Times New Roman', serif" stroke="#b42c52" stroke-width="0.18">-0.55</text>
<text x="489.75" y="443.10" font-size="9.2" text-anchor="middle" fill="#b42c52" font-weight="normal" font-family="'Liberation Serif', 'Times New Roman', serif" stroke="#b42c52" stroke-width="0.18">(-0.73, -0.38)</text>
<text x="453.45" y="455.60" font-size="9.2" text-anchor="middle" fill="#3a479c" font-weight="normal" font-family="'Liberation Serif', 'Times New Roman', serif" stroke="#3a479c" stroke-width="0.18">-1.33</text>
<text x="453.45" y="467.70" font-size="9.2" text-anchor="middle" fill="#3a479c" font-weight="normal" font-family="'Liberation Serif', 'Times New Roman', serif" stroke="#3a479c" stroke-width="0.18">(-1.55, -1.11)</text>
<text x="453.45" y="362.50" font-size="10.2" text-anchor="middle" fill="#3a479c" font-weight="normal" font-family="'Liberation Serif', 'Times New Roman', serif" stroke="#3a479c" stroke-width="0.18">n=423</text>
<text x="489.75" y="362.50" font-size="10.2" text-anchor="middle" fill="#b42c52" font-weight="normal" font-family="'Liberation Serif', 'Times New Roman', serif" stroke="#b42c52" stroke-width="0.18">n=536</text>
<text x="471.60" y="343.75" font-size="10.3" text-anchor="middle" fill="#222" font-weight="normal" font-family="'Liberation Serif', 'Times New Roman', serif" stroke="#222" stroke-width="0.18">eGFR≥60</text>
<text x="471.60" y="530.50" font-size="10.6" text-anchor="middle" fill="#222" font-weight="normal" font-family="'Liberation Serif', 'Times New Roman', serif" stroke="#222" stroke-width="0.18">0.78</text>
<text x="471.60" y="542.50" font-size="10.6" text-anchor="middle" fill="#222" font-weight="normal" font-family="'Liberation Serif', 'Times New Roman', serif" stroke="#222" stroke-width="0.18">(0.50, 1.05)</text>
<text x="471.60" y="567.50" font-size="10.6" text-anchor="middle" fill="#222" font-weight="normal" font-family="'Liberation Serif', 'Times New Roman', serif" stroke="#222" stroke-width="0.18">p&lt;0.001</text>
<line x1="333.50" y1="379.20" x2="521.00" y2="379.20" stroke="#1e2222" stroke-width="1.6"/>
<text x="323.90" y="530.50" font-size="10.6" text-anchor="end" fill="#222" font-weight="normal" font-family="'Liberation Serif', 'Times New Roman', serif" stroke="#222" stroke-width="0.18">Difference</text>
<text x="324.70" y="542.50" font-size="10.6" text-anchor="end" fill="#222" font-weight="normal" font-family="'Liberation Serif', 'Times New Roman', serif" stroke="#222" stroke-width="0.18">(95% CI)</text>
<text x="324.70" y="567.50" font-size="10.6" text-anchor="end" fill="#222" font-weight="normal" font-family="'Liberation Serif', 'Times New Roman', serif" stroke="#222" stroke-width="0.18">p-value</text>
<text x="-0.80" y="623.20" font-size="24.2" text-anchor="start" fill="#111" font-weight="bold" font-family="'Liberation Sans', Arial, sans-serif">D</text>
<text x="27.00" y="618.75" font-size="10.3" text-anchor="start" fill="#111" font-weight="bold" font-family="'Liberation Serif', 'Times New Roman', serif">Age &lt;65 versus ≥65 years of age</text>
<rect x="61.60" y="626.80" width="6.80" height="6.80" fill="url(#legT)" stroke="#2f5856" stroke-width="1.2"/>
<text x="72.40" y="633.40" font-size="10" text-anchor="start" fill="#222" font-weight="normal" font-family="'Liberation Serif', 'Times New Roman', serif" stroke="#222" stroke-width="0.18">Other diabetes drugs</text>
<rect x="161.40" y="626.80" width="6.80" height="6.80" fill="url(#legP)" stroke="#5a1028" stroke-width="1.2"/>
<text x="171.00" y="633.40" font-size="10" text-anchor="start" fill="#222" font-weight="normal" font-family="'Liberation Serif', 'Times New Roman', serif" stroke="#222" stroke-width="0.18">SGLT2 inhibitors</text>
<line x1="58.50" y1="658.75" x2="58.50" y2="816.90" stroke="#222" stroke-width="1.3"/>
<line x1="53.50" y1="687.90" x2="58.50" y2="687.90" stroke="#222" stroke-width="1.3"/>
<text x="50.60" y="691.50" font-size="10.8" text-anchor="end" fill="#222" font-weight="normal" font-family="'Liberation Serif', 'Times New Roman', serif" stroke="#222" stroke-width="0.18">0.0</text>
<line x1="53.50" y1="708.38" x2="58.50" y2="708.38" stroke="#222" stroke-width="1.3"/>
<text x="50.60" y="711.98" font-size="10.8" text-anchor="end" fill="#222" font-weight="normal" font-family="'Liberation Serif', 'Times New Roman', serif" stroke="#222" stroke-width="0.18">-0.5</text>
<line x1="53.50" y1="728.86" x2="58.50" y2="728.86" stroke="#222" stroke-width="1.3"/>
<text x="50.60" y="732.46" font-size="10.8" text-anchor="end" fill="#222" font-weight="normal" font-family="'Liberation Serif', 'Times New Roman', serif" stroke="#222" stroke-width="0.18">-1.0</text>
<line x1="53.50" y1="749.34" x2="58.50" y2="749.34" stroke="#222" stroke-width="1.3"/>
<text x="50.60" y="752.94" font-size="10.8" text-anchor="end" fill="#222" font-weight="normal" font-family="'Liberation Serif', 'Times New Roman', serif" stroke="#222" stroke-width="0.18">-1.5</text>
<line x1="53.50" y1="769.82" x2="58.50" y2="769.82" stroke="#222" stroke-width="1.3"/>
<text x="50.60" y="773.42" font-size="10.8" text-anchor="end" fill="#222" font-weight="normal" font-family="'Liberation Serif', 'Times New Roman', serif" stroke="#222" stroke-width="0.18">-2.0</text>
<line x1="53.50" y1="790.30" x2="58.50" y2="790.30" stroke="#222" stroke-width="1.3"/>
<text x="50.60" y="793.90" font-size="10.8" text-anchor="end" fill="#222" font-weight="normal" font-family="'Liberation Serif', 'Times New Roman', serif" stroke="#222" stroke-width="0.18">-2.5</text>
<line x1="53.50" y1="810.78" x2="58.50" y2="810.78" stroke="#222" stroke-width="1.3"/>
<text x="50.60" y="814.38" font-size="10.8" text-anchor="end" fill="#222" font-weight="normal" font-family="'Liberation Serif', 'Times New Roman', serif" stroke="#222" stroke-width="0.18">-3.0</text>
<text x="0.00" y="0.00" font-size="10" text-anchor="middle" fill="#222" font-weight="normal" font-family="'Liberation Serif', 'Times New Roman', serif" stroke="#222" stroke-width="0.18" transform="translate(6.90,740.00) rotate(-90)">Mean change in eGFR</text>
<text x="0.00" y="0.00" font-size="9.9" text-anchor="middle" fill="#222" font-weight="normal" font-family="'Liberation Serif', 'Times New Roman', serif" stroke="#222" stroke-width="0.18" transform="translate(19.60,740.00) rotate(-90)">(mL/min/1.73m² per year)</text>
<rect x="69.70" y="687.90" width="36.20" height="56.52" fill="url(#gT)" stroke="#4f8f8a" stroke-width="0.8"/>
<rect x="105.90" y="687.90" width="36.20" height="29.49" fill="url(#gP)" stroke="#7a1030" stroke-width="0.8"/>
<line x1="87.80" y1="755.90" x2="87.80" y2="733.45" stroke="#2332a6" stroke-width="1.7"/>
<line x1="83.00" y1="755.90" x2="92.60" y2="755.90" stroke="#2332a6" stroke-width="1.9"/>
<line x1="83.00" y1="733.45" x2="92.60" y2="733.45" stroke="#2332a6" stroke-width="1.9"/>
<line x1="124.00" y1="725.59" x2="124.00" y2="709.28" stroke="#c8143f" stroke-width="1.7"/>
<line x1="119.20" y1="725.59" x2="128.80" y2="725.59" stroke="#c8143f" stroke-width="1.9"/>
<line x1="119.20" y1="709.28" x2="128.80" y2="709.28" stroke="#c8143f" stroke-width="1.9"/>
<text x="124.00" y="744.40" font-size="9.2" text-anchor="middle" fill="#b42c52" font-weight="normal" font-family="'Liberation Serif', 'Times New Roman', serif" stroke="#b42c52" stroke-width="0.18">-0.72</text>
<text x="124.00" y="756.50" font-size="9.2" text-anchor="middle" fill="#b42c52" font-weight="normal" font-family="'Liberation Serif', 'Times New Roman', serif" stroke="#b42c52" stroke-width="0.18">(-0.93, -0.50)</text>
<text x="87.80" y="768.50" font-size="9.2" text-anchor="middle" fill="#3a479c" font-weight="normal" font-family="'Liberation Serif', 'Times New Roman', serif" stroke="#3a479c" stroke-width="0.18">-1.38</text>
<text x="87.80" y="780.80" font-size="9.2" text-anchor="middle" fill="#3a479c" font-weight="normal" font-family="'Liberation Serif', 'Times New Roman', serif" stroke="#3a479c" stroke-width="0.18">(-1.67, -1.09)</text>
<text x="87.80" y="671.25" font-size="10.2" text-anchor="middle" fill="#3a479c" font-weight="normal" font-family="'Liberation Serif', 'Times New Roman', serif" stroke="#3a479c" stroke-width="0.18">n=246</text>
<text x="124.00" y="671.25" font-size="10.2" text-anchor="middle" fill="#b42c52" font-weight="normal" font-family="'Liberation Serif', 'Times New Roman', serif" stroke="#b42c52" stroke-width="0.18">n=340</text>
<text x="105.90" y="652.50" font-size="10.3" text-anchor="middle" fill="#222" font-weight="normal" font-family="'Liberation Serif', 'Times New Roman', serif" stroke="#222" stroke-width="0.18">&lt;65 years of age</text>
<text x="105.90" y="839.30" font-size="10.6" text-anchor="middle" fill="#222" font-weight="normal" font-family="'Liberation Serif', 'Times New Roman', serif" stroke="#222" stroke-width="0.18">0.66</text>
<text x="105.90" y="851.90" font-size="10.6" text-anchor="middle" fill="#222" font-weight="normal" font-family="'Liberation Serif', 'Times New Roman', serif" stroke="#222" stroke-width="0.18">(0.30, 1.03)</text>
<text x="105.90" y="875.70" font-size="10.6" text-anchor="middle" fill="#222" font-weight="normal" font-family="'Liberation Serif', 'Times New Roman', serif" stroke="#222" stroke-width="0.18">p&lt;0.001</text>
<rect x="160.00" y="687.90" width="36.20" height="44.24" fill="url(#gT)" stroke="#4f8f8a" stroke-width="0.8"/>
<rect x="196.20" y="687.90" width="36.20" height="4.92" fill="url(#gP)" stroke="#7a1030" stroke-width="0.8"/>
<line x1="178.10" y1="741.57" x2="178.10" y2="722.80" stroke="#2332a6" stroke-width="1.7"/>
<line x1="173.30" y1="741.57" x2="182.90" y2="741.57" stroke="#2332a6" stroke-width="1.9"/>
<line x1="173.30" y1="722.80" x2="182.90" y2="722.80" stroke="#2332a6" stroke-width="1.9"/>
<line x1="214.30" y1="701.84" x2="214.30" y2="684.29" stroke="#c8143f" stroke-width="1.7"/>
<line x1="209.50" y1="701.84" x2="219.10" y2="701.84" stroke="#c8143f" stroke-width="1.9"/>
<line x1="209.50" y1="684.29" x2="219.10" y2="684.29" stroke="#c8143f" stroke-width="1.9"/>
<text x="214.30" y="744.40" font-size="9.2" text-anchor="middle" fill="#b42c52" font-weight="normal" font-family="'Liberation Serif', 'Times New Roman', serif" stroke="#b42c52" stroke-width="0.18">-0.12</text>
<text x="214.30" y="756.50" font-size="9.2" text-anchor="middle" fill="#b42c52" font-weight="normal" font-family="'Liberation Serif', 'Times New Roman', serif" stroke="#b42c52" stroke-width="0.18">(-0.35, 0.11)</text>
<text x="178.10" y="768.50" font-size="9.2" text-anchor="middle" fill="#3a479c" font-weight="normal" font-family="'Liberation Serif', 'Times New Roman', serif" stroke="#3a479c" stroke-width="0.18">-1.08</text>
<text x="178.10" y="780.80" font-size="9.2" text-anchor="middle" fill="#3a479c" font-weight="normal" font-family="'Liberation Serif', 'Times New Roman', serif" stroke="#3a479c" stroke-width="0.18">(-1.32, -0.83)</text>
<text x="178.10" y="671.25" font-size="10.2" text-anchor="middle" fill="#3a479c" font-weight="normal" font-family="'Liberation Serif', 'Times New Roman', serif" stroke="#3a479c" stroke-width="0.18">n=327</text>
<text x="214.30" y="671.25" font-size="10.2" text-anchor="middle" fill="#b42c52" font-weight="normal" font-family="'Liberation Serif', 'Times New Roman', serif" stroke="#b42c52" stroke-width="0.18">n=370</text>
<text x="196.20" y="652.50" font-size="10.3" text-anchor="middle" fill="#222" font-weight="normal" font-family="'Liberation Serif', 'Times New Roman', serif" stroke="#222" stroke-width="0.18">≥65 years of age</text>
<text x="196.20" y="839.30" font-size="10.6" text-anchor="middle" fill="#222" font-weight="normal" font-family="'Liberation Serif', 'Times New Roman', serif" stroke="#222" stroke-width="0.18">0.95</text>
<text x="196.20" y="851.90" font-size="10.6" text-anchor="middle" fill="#222" font-weight="normal" font-family="'Liberation Serif', 'Times New Roman', serif" stroke="#222" stroke-width="0.18">(0.62, 1.29)</text>
<text x="196.20" y="875.70" font-size="10.6" text-anchor="middle" fill="#222" font-weight="normal" font-family="'Liberation Serif', 'Times New Roman', serif" stroke="#222" stroke-width="0.18">p&lt;0.001</text>
<line x1="58.50" y1="687.90" x2="244.60" y2="687.90" stroke="#1e2222" stroke-width="1.6"/>
<text x="48.90" y="839.30" font-size="10.6" text-anchor="end" fill="#222" font-weight="normal" font-family="'Liberation Serif', 'Times New Roman', serif" stroke="#222" stroke-width="0.18">Difference</text>
<text x="48.90" y="851.90" font-size="10.6" text-anchor="end" fill="#222" font-weight="normal" font-family="'Liberation Serif', 'Times New Roman', serif" stroke="#222" stroke-width="0.18">(95% CI)</text>
<text x="48.90" y="875.70" font-size="10.6" text-anchor="end" fill="#222" font-weight="normal" font-family="'Liberation Serif', 'Times New Roman', serif" stroke="#222" stroke-width="0.18">p-value</text>
<text x="266.70" y="623.40" font-size="24.2" text-anchor="start" fill="#111" font-weight="bold" font-family="'Liberation Sans', Arial, sans-serif">E</text>
<text x="289.50" y="618.00" font-size="10.3" text-anchor="start" fill="#111" font-weight="bold" font-family="'Liberation Serif', 'Times New Roman', serif">With versus without use of ACE inhibitors or ARBs</text>
<rect x="335.60" y="626.80" width="6.80" height="6.80" fill="url(#legT)" stroke="#2f5856" stroke-width="1.2"/>
<text x="346.40" y="633.40" font-size="10" text-anchor="start" fill="#222" font-weight="normal" font-family="'Liberation Serif', 'Times New Roman', serif" stroke="#222" stroke-width="0.18">Other diabetes drugs</text>
<rect x="434.80" y="626.80" width="6.80" height="6.80" fill="url(#legP)" stroke="#5a1028" stroke-width="1.2"/>
<text x="444.40" y="633.40" font-size="10" text-anchor="start" fill="#222" font-weight="normal" font-family="'Liberation Serif', 'Times New Roman', serif" stroke="#222" stroke-width="0.18">SGLT2 inhibitors</text>
<line x1="332.00" y1="671.25" x2="332.00" y2="816.50" stroke="#222" stroke-width="1.3"/>
<line x1="327.00" y1="698.20" x2="332.00" y2="698.20" stroke="#222" stroke-width="1.3"/>
<text x="324.20" y="701.80" font-size="10.8" text-anchor="end" fill="#222" font-weight="normal" font-family="'Liberation Serif', 'Times New Roman', serif" stroke="#222" stroke-width="0.18">0.0</text>
<line x1="327.00" y1="717.03" x2="332.00" y2="717.03" stroke="#222" stroke-width="1.3"/>
<text x="324.20" y="720.63" font-size="10.8" text-anchor="end" fill="#222" font-weight="normal" font-family="'Liberation Serif', 'Times New Roman', serif" stroke="#222" stroke-width="0.18">-0.5</text>
<line x1="327.00" y1="735.86" x2="332.00" y2="735.86" stroke="#222" stroke-width="1.3"/>
<text x="324.20" y="739.46" font-size="10.8" text-anchor="end" fill="#222" font-weight="normal" font-family="'Liberation Serif', 'Times New Roman', serif" stroke="#222" stroke-width="0.18">-1.0</text>
<line x1="327.00" y1="754.69" x2="332.00" y2="754.69" stroke="#222" stroke-width="1.3"/>
<text x="324.20" y="758.29" font-size="10.8" text-anchor="end" fill="#222" font-weight="normal" font-family="'Liberation Serif', 'Times New Roman', serif" stroke="#222" stroke-width="0.18">-1.5</text>
<line x1="327.00" y1="773.52" x2="332.00" y2="773.52" stroke="#222" stroke-width="1.3"/>
<text x="324.20" y="777.12" font-size="10.8" text-anchor="end" fill="#222" font-weight="normal" font-family="'Liberation Serif', 'Times New Roman', serif" stroke="#222" stroke-width="0.18">-2.0</text>
<line x1="327.00" y1="792.35" x2="332.00" y2="792.35" stroke="#222" stroke-width="1.3"/>
<text x="324.20" y="795.95" font-size="10.8" text-anchor="end" fill="#222" font-weight="normal" font-family="'Liberation Serif', 'Times New Roman', serif" stroke="#222" stroke-width="0.18">-2.5</text>
<line x1="327.00" y1="811.18" x2="332.00" y2="811.18" stroke="#222" stroke-width="1.3"/>
<text x="324.20" y="814.78" font-size="10.8" text-anchor="end" fill="#222" font-weight="normal" font-family="'Liberation Serif', 'Times New Roman', serif" stroke="#222" stroke-width="0.18">-3.0</text>
<text x="0.00" y="0.00" font-size="10" text-anchor="middle" fill="#222" font-weight="normal" font-family="'Liberation Serif', 'Times New Roman', serif" stroke="#222" stroke-width="0.18" transform="translate(281.00,746.00) rotate(-90)">Mean change in eGFR</text>
<text x="0.00" y="0.00" font-size="9.9" text-anchor="middle" fill="#222" font-weight="normal" font-family="'Liberation Serif', 'Times New Roman', serif" stroke="#222" stroke-width="0.18" transform="translate(293.80,746.00) rotate(-90)">(mL/min/1.73m² per year)</text>
<rect x="343.60" y="698.20" width="36.00" height="59.50" fill="url(#gT)" stroke="#4f8f8a" stroke-width="0.8"/>
<rect x="379.60" y="698.20" width="36.00" height="22.60" fill="url(#gP)" stroke="#7a1030" stroke-width="0.8"/>
<line x1="361.60" y1="767.85" x2="361.60" y2="748.43" stroke="#2332a6" stroke-width="1.7"/>
<line x1="356.80" y1="767.85" x2="366.40" y2="767.85" stroke="#2332a6" stroke-width="1.9"/>
<line x1="356.80" y1="748.43" x2="366.40" y2="748.43" stroke="#2332a6" stroke-width="1.9"/>
<line x1="397.60" y1="729.06" x2="397.60" y2="712.66" stroke="#c8143f" stroke-width="1.7"/>
<line x1="392.80" y1="729.06" x2="402.40" y2="729.06" stroke="#c8143f" stroke-width="1.9"/>
<line x1="392.80" y1="712.66" x2="402.40" y2="712.66" stroke="#c8143f" stroke-width="1.9"/>
<text x="397.60" y="756.90" font-size="9.2" text-anchor="middle" fill="#b42c52" font-weight="normal" font-family="'Liberation Serif', 'Times New Roman', serif" stroke="#b42c52" stroke-width="0.18">-0.60</text>
<text x="397.60" y="768.50" font-size="9.2" text-anchor="middle" fill="#b42c52" font-weight="normal" font-family="'Liberation Serif', 'Times New Roman', serif" stroke="#b42c52" stroke-width="0.18">(-0.83, -0.36)</text>
<text x="361.60" y="779.40" font-size="9.2" text-anchor="middle" fill="#3a479c" font-weight="normal" font-family="'Liberation Serif', 'Times New Roman', serif" stroke="#3a479c" stroke-width="0.18">-1.58</text>
<text x="361.60" y="791.00" font-size="9.2" text-anchor="middle" fill="#3a479c" font-weight="normal" font-family="'Liberation Serif', 'Times New Roman', serif" stroke="#3a479c" stroke-width="0.18">(-1.86, -1.31)</text>
<text x="361.60" y="682.00" font-size="10.2" text-anchor="middle" fill="#3a479c" font-weight="normal" font-family="'Liberation Serif', 'Times New Roman', serif" stroke="#3a479c" stroke-width="0.18">n=279</text>
<text x="397.60" y="682.00" font-size="10.2" text-anchor="middle" fill="#b42c52" font-weight="normal" font-family="'Liberation Serif', 'Times New Roman', serif" stroke="#b42c52" stroke-width="0.18">n=327</text>
<text x="379.60" y="652.00" font-size="10.3" text-anchor="middle" fill="#222" font-weight="normal" font-family="'Liberation Serif', 'Times New Roman', serif" stroke="#222" stroke-width="0.18">With ACEi</text>
<text x="379.60" y="664.25" font-size="10.3" text-anchor="middle" fill="#222" font-weight="normal" font-family="'Liberation Serif', 'Times New Roman', serif" stroke="#222" stroke-width="0.18">or ARBs</text>
<text x="379.60" y="839.50" font-size="10.6" text-anchor="middle" fill="#222" font-weight="normal" font-family="'Liberation Serif', 'Times New Roman', serif" stroke="#222" stroke-width="0.18">0.99</text>
<text x="379.60" y="851.90" font-size="10.6" text-anchor="middle" fill="#222" font-weight="normal" font-family="'Liberation Serif', 'Times New Roman', serif" stroke="#222" stroke-width="0.18">(0.63, 1.35)</text>
<text x="379.60" y="875.70" font-size="10.6" text-anchor="middle" fill="#222" font-weight="normal" font-family="'Liberation Serif', 'Times New Roman', serif" stroke="#222" stroke-width="0.18">p&lt;0.001</text>
<rect x="434.10" y="698.20" width="36.00" height="32.76" fill="url(#gT)" stroke="#4f8f8a" stroke-width="0.8"/>
<rect x="470.10" y="698.20" width="36.00" height="13.56" fill="url(#gP)" stroke="#7a1030" stroke-width="0.8"/>
<line x1="452.10" y1="740.73" x2="452.10" y2="722.07" stroke="#2332a6" stroke-width="1.7"/>
<line x1="447.30" y1="740.73" x2="456.90" y2="740.73" stroke="#2332a6" stroke-width="1.9"/>
<line x1="447.30" y1="722.07" x2="456.90" y2="722.07" stroke="#2332a6" stroke-width="1.9"/>
<line x1="488.10" y1="719.27" x2="488.10" y2="704.75" stroke="#c8143f" stroke-width="1.7"/>
<line x1="483.30" y1="719.27" x2="492.90" y2="719.27" stroke="#c8143f" stroke-width="1.9"/>
<line x1="483.30" y1="704.75" x2="492.90" y2="704.75" stroke="#c8143f" stroke-width="1.9"/>
<text x="488.10" y="756.90" font-size="9.2" text-anchor="middle" fill="#b42c52" font-weight="normal" font-family="'Liberation Serif', 'Times New Roman', serif" stroke="#b42c52" stroke-width="0.18">-0.36</text>
<text x="488.10" y="768.50" font-size="9.2" text-anchor="middle" fill="#b42c52" font-weight="normal" font-family="'Liberation Serif', 'Times New Roman', serif" stroke="#b42c52" stroke-width="0.18">(-0.57, -0.15)</text>
<text x="452.10" y="779.40" font-size="9.2" text-anchor="middle" fill="#3a479c" font-weight="normal" font-family="'Liberation Serif', 'Times New Roman', serif" stroke="#3a479c" stroke-width="0.18">-0.87</text>
<text x="452.10" y="791.00" font-size="9.2" text-anchor="middle" fill="#3a479c" font-weight="normal" font-family="'Liberation Serif', 'Times New Roman', serif" stroke="#3a479c" stroke-width="0.18">(-1.14, -0.61)</text>
<text x="452.10" y="682.00" font-size="10.2" text-anchor="middle" fill="#3a479c" font-weight="normal" font-family="'Liberation Serif', 'Times New Roman', serif" stroke="#3a479c" stroke-width="0.18">n=294</text>
<text x="488.10" y="682.00" font-size="10.2" text-anchor="middle" fill="#b42c52" font-weight="normal" font-family="'Liberation Serif', 'Times New Roman', serif" stroke="#b42c52" stroke-width="0.18">n=383</text>
<text x="470.10" y="652.00" font-size="10.3" text-anchor="middle" fill="#222" font-weight="normal" font-family="'Liberation Serif', 'Times New Roman', serif" stroke="#222" stroke-width="0.18">Without ACEi</text>
<text x="470.10" y="664.25" font-size="10.3" text-anchor="middle" fill="#222" font-weight="normal" font-family="'Liberation Serif', 'Times New Roman', serif" stroke="#222" stroke-width="0.18">or ARBs</text>
<text x="470.10" y="839.50" font-size="10.6" text-anchor="middle" fill="#222" font-weight="normal" font-family="'Liberation Serif', 'Times New Roman', serif" stroke="#222" stroke-width="0.18">0.51</text>
<text x="470.10" y="851.90" font-size="10.6" text-anchor="middle" fill="#222" font-weight="normal" font-family="'Liberation Serif', 'Times New Roman', serif" stroke="#222" stroke-width="0.18">(0.18, 0.85)</text>
<text x="470.10" y="875.70" font-size="10.6" text-anchor="middle" fill="#222" font-weight="normal" font-family="'Liberation Serif', 'Times New Roman', serif" stroke="#222" stroke-width="0.18">p=0.003</text>
<line x1="332.00" y1="698.20" x2="521.00" y2="698.20" stroke="#1e2222" stroke-width="1.6"/>
<text x="323.50" y="839.50" font-size="10.6" text-anchor="end" fill="#222" font-weight="normal" font-family="'Liberation Serif', 'Times New Roman', serif" stroke="#222" stroke-width="0.18">Difference</text>
<text x="324.30" y="851.90" font-size="10.6" text-anchor="end" fill="#222" font-weight="normal" font-family="'Liberation Serif', 'Times New Roman', serif" stroke="#222" stroke-width="0.18">(95% CI)</text>
<text x="324.30" y="875.70" font-size="10.6" text-anchor="end" fill="#222" font-weight="normal" font-family="'Liberation Serif', 'Times New Roman', serif" stroke="#222" stroke-width="0.18">p-value</text>
</svg>
</body></html>
